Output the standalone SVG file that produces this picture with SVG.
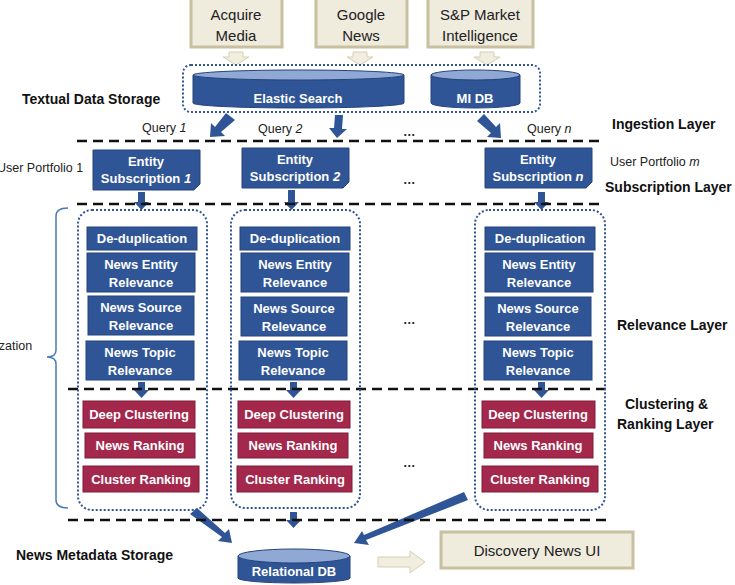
<svg xmlns="http://www.w3.org/2000/svg" width="735" height="585" viewBox="0 0 735 585">
<style>
text{font-family:"Liberation Sans Narrow","Liberation Sans",Arial,sans-serif}
.b{fill:#2f5597;stroke:#24447c;stroke-width:1}
.r{fill:#a3284c;stroke:#7f1d3a;stroke-width:1}
.wt{fill:#fff;font-size:13px;font-weight:bold;text-anchor:middle}
.src{fill:#efebdd;stroke:#c8c0a0;stroke-width:3}
.st{fill:#222;font-size:15px;text-anchor:middle}
.lbl{fill:#111;font-size:14px;font-weight:bold}
.sm{fill:#222;font-size:12.5px}
.dash{stroke:#111;stroke-width:2.5;stroke-dasharray:10,6;fill:none}
.dot{fill:none;stroke:#2f5597;stroke-width:2;stroke-dasharray:2,2}
.hol{fill:#f1eddf;stroke:#d6cfb3;stroke-width:1}
.ar{fill:#2f5597}
</style>
<g id="sources">
<g id="acquire"><rect class="src" x="191" y="-4" width="91" height="51"/><text class="st" x="236" y="20">Acquire</text><text class="st" x="236" y="41">Media</text></g>
<g id="google"><rect class="src" x="316" y="-4" width="91" height="51"/><text class="st" x="361" y="20">Google</text><text class="st" x="361" y="41">News</text></g>
<g id="sp"><rect class="src" x="428" y="-4" width="105" height="51"/><text class="st" x="480" y="20">S&amp;P Market</text><text class="st" x="480" y="41">Intelligence</text></g>
<path class="hol" d="M229,52h14v5h6l-13,8l-13,-8h6z"/>
<path class="hol" d="M353,52h14v5h6l-13,8l-13,-8h6z"/>
<path class="hol" d="M480,52h14v5h6l-13,8l-13,-8h6z"/>
</g>
<g id="storage">
<rect class="dot" x="183" y="65" width="357" height="47" rx="8"/>
<g id="elastic"><path class="b" d="M193,75v28a105.5,5 0 0 0 211,0v-28z"/><ellipse cx="298.5" cy="75" rx="105.5" ry="5" fill="#8fa9d4" stroke="#24447c"/><text class="wt" x="298" y="103">Elastic Search</text></g>
<g id="midb"><path class="b" d="M431,75v28a44.5,5 0 0 0 89,0v-28z"/><ellipse cx="475.5" cy="75" rx="44.5" ry="5" fill="#8fa9d4" stroke="#24447c"/><text class="wt" x="475" y="103">MI DB</text></g>
<text class="lbl" x="22" y="104">Textual Data Storage</text>
</g>
<g id="connectors">
<path class="ar" d="M226,113l9,7l-14,12l4,4l-15,1l1,-14l4,4z"/>
<path class="ar" d="M335,115h8l-1,14h5l-10,9l-8,-10h5z"/>
<path class="ar" d="M477,121l7,-7l12,13l4,-4l1,15l-14,-1l4,-4z"/>
<path class="ar" d="M138,192h7v10h4l-7.5,8l-7.5,-8h4z"/>
<path class="ar" d="M288,190h7v12h4l-7.5,8l-7.5,-8h4z"/>
<path class="ar" d="M538,192h7v10h4l-7.5,8l-7.5,-8h4z"/>
<path class="ar" d="M138,382h7v8h4l-7.5,8l-7.5,-8h4z"/>
<path class="ar" d="M290,382h7v8h4l-7.5,8l-7.5,-8h4z"/>
<path class="ar" d="M538,382h7v8h4l-7.5,8l-7.5,-8h4z"/>
<path class="ar" d="M290,512h7v8h4l-7.5,8l-7.5,-8h4z"/>
<path class="ar" d="M190,514l7,-6l28,25l4,-4l3,14l-14,-2l4,-4z"/>
<path class="ar" d="M464,492l4,8l-102,40l3,5l-15,-2l8,-12l2,4z"/>
<path class="hol" d="M378,557h32v-6l15,11l-15,11v-6h-32z"/>
</g>
<g id="lines">
<line class="dash" x1="77" y1="141" x2="603" y2="141"/>
<line class="dash" x1="77" y1="204" x2="603" y2="204"/>
<line class="dash" x1="68" y1="389" x2="608" y2="389"/>
<line class="dash" x1="68" y1="520" x2="608" y2="520"/>
<path d="M68,208c-8,0-12,2-12,8v134c0,5-3,7-9,7c6,0 9,2 9,7v136c0,6 4,8 12,8" fill="none" stroke="#4a7ab8" stroke-width="1.5"/>
<text class="sm" x="-4" y="350">ization</text>
</g>
<g id="labels">
<text class="sm" x="142" y="132">Query <tspan font-style="italic">1</tspan></text>
<text class="sm" x="258" y="133">Query <tspan font-style="italic">2</tspan></text>
<text class="sm" x="527" y="133">Query <tspan font-style="italic">n</tspan></text>
<text class="sm" x="403" y="136" font-weight="bold">…</text>
<text class="lbl" x="612" y="129">Ingestion Layer</text>
<text class="sm" x="-3" y="172">User Portfolio 1</text>
<text class="sm" x="610" y="166">User Portfolio <tspan font-style="italic">m</tspan></text>
<text class="sm" x="403" y="184" font-weight="bold">…</text>
<text class="lbl" x="605" y="192">Subscription Layer</text>
<text class="sm" x="403" y="324" font-weight="bold">…</text>
<text class="sm" x="403" y="467" font-weight="bold">…</text>
<text class="lbl" x="617" y="330">Relevance Layer</text>
<text class="lbl" x="625" y="409">Clustering &amp;</text>
<text class="lbl" x="617" y="429">Ranking Layer</text>
<text class="lbl" x="16" y="560">News Metadata Storage</text>
</g>
<g id="sub1"><path class="b" d="M93,150h107v34l-6,6h-101z"/><text class="wt" x="146" y="166">Entity</text><text class="wt" x="146" y="183">Subscription <tspan font-style="italic">1</tspan></text></g>
<g id="sub2"><path class="b" d="M242,148h107v34l-6,6h-101z"/><text class="wt" x="295" y="164">Entity</text><text class="wt" x="295" y="181">Subscription <tspan font-style="italic">2</tspan></text></g>
<g id="subn"><path class="b" d="M485,148h107v34l-6,6h-101z"/><text class="wt" x="538" y="164">Entity</text><text class="wt" x="538" y="181">Subscription <tspan font-style="italic">n</tspan></text></g>
<g id="col1">
<rect class="dot" x="78" y="210" width="129" height="300" rx="14"/>
<rect class="b" x="87" y="227" width="110" height="23"/><text class="wt" x="142" y="243">De-duplication</text>
<rect class="b" x="87" y="253" width="108" height="39"/><text class="wt" x="141" y="269">News Entity</text><text class="wt" x="141" y="287">Relevance</text>
<rect class="b" x="88" y="296" width="106" height="39"/><text class="wt" x="141" y="312">News Source</text><text class="wt" x="141" y="330">Relevance</text>
<rect class="b" x="86" y="341" width="108" height="39"/><text class="wt" x="140" y="357">News Topic</text><text class="wt" x="140" y="375">Relevance</text>
<rect class="r" x="83" y="401" width="112" height="27"/><text class="wt" x="139" y="419">Deep Clustering</text>
<rect class="r" x="85" y="433" width="110" height="25"/><text class="wt" x="140" y="450">News Ranking</text>
<rect class="r" x="83" y="466" width="116" height="26"/><text class="wt" x="141" y="484">Cluster Ranking</text>
</g>
<g id="col2">
<rect class="dot" x="231" y="210" width="129" height="298" rx="14"/>
<rect class="b" x="240" y="227" width="110" height="23"/><text class="wt" x="295" y="243">De-duplication</text>
<rect class="b" x="241" y="253" width="108" height="39"/><text class="wt" x="295" y="269">News Entity</text><text class="wt" x="295" y="287">Relevance</text>
<rect class="b" x="241" y="297" width="106" height="39"/><text class="wt" x="294" y="313">News Source</text><text class="wt" x="294" y="331">Relevance</text>
<rect class="b" x="239" y="341" width="108" height="39"/><text class="wt" x="293" y="357">News Topic</text><text class="wt" x="293" y="375">Relevance</text>
<rect class="r" x="238" y="401" width="112" height="27"/><text class="wt" x="294" y="419">Deep Clustering</text>
<rect class="r" x="238" y="433" width="110" height="25"/><text class="wt" x="293" y="450">News Ranking</text>
<rect class="r" x="237" y="466" width="115" height="26"/><text class="wt" x="295" y="484">Cluster Ranking</text>
</g>
<g id="coln">
<rect class="dot" x="475" y="210" width="130" height="300" rx="14"/>
<rect class="b" x="485" y="227" width="110" height="23"/><text class="wt" x="540" y="243">De-duplication</text>
<rect class="b" x="485" y="253" width="108" height="39"/><text class="wt" x="539" y="269">News Entity</text><text class="wt" x="539" y="287">Relevance</text>
<rect class="b" x="485" y="297" width="106" height="39"/><text class="wt" x="538" y="313">News Source</text><text class="wt" x="538" y="331">Relevance</text>
<rect class="b" x="484" y="341" width="108" height="39"/><text class="wt" x="538" y="357">News Topic</text><text class="wt" x="538" y="375">Relevance</text>
<rect class="r" x="482" y="401" width="113" height="27"/><text class="wt" x="538" y="419">Deep Clustering</text>
<rect class="r" x="484" y="433" width="109" height="25"/><text class="wt" x="538" y="450">News Ranking</text>
<rect class="r" x="482" y="466" width="116" height="26"/><text class="wt" x="540" y="484">Cluster Ranking</text>
</g>
<g id="reldb"><path class="b" d="M238,556v22a56,5 0 0 0 112,0v-22z"/><ellipse cx="294" cy="556" rx="56" ry="7" fill="#8fa9d4" stroke="#24447c"/><text class="wt" x="294" y="576">Relational DB</text></g>
<g id="ui"><rect class="src" x="441" y="532" width="192" height="36"/><text class="st" x="537" y="556">Discovery News UI</text></g>
</svg>
